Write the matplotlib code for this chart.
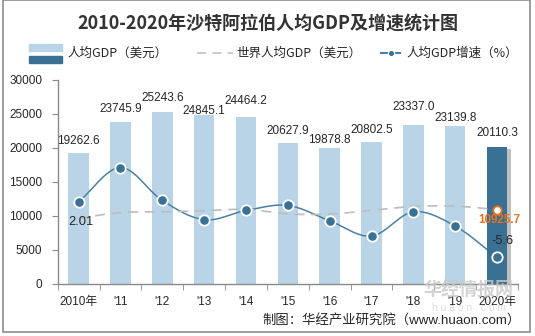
import numpy as np
import matplotlib
matplotlib.use("Agg")
import matplotlib.pyplot as plt
from matplotlib.patches import Rectangle
from matplotlib.lines import Line2D
import matplotlib.patheffects as pe

# ---------------- data ----------------
years = ["2010年", "'11", "'12", "'13", "'14", "'15", "'16", "'17", "'18", "'19", "2020年"]
gdp_pc = [19262.6, 23745.9, 25243.6, 24845.1, 24464.2, 20627.9, 19878.8, 20802.5, 23337.0, 23139.8, 20110.3]
world_gdp_pc = [9650, 10480, 10580, 10750, 10950, 10280, 10260, 10800, 11380, 11420, 10925.7]
growth = [2.01, 6.71, 2.20, -0.44, 0.83, 1.52, -0.58, -2.68, 0.65, -1.31, -5.6]
yticks = [0, 5000, 10000, 15000, 20000, 25000, 30000]

# ---------------- style ----------------
W, H, DPI = 535, 336, 100
LIGHT = "#b8d4e6"
DARK = "#3a7094"
LINE = "#4a80a8"
WORLD = "#bdbdbd"
ORANGE = "#e8731c"
AXC = "#8a8a8a"
TXT = "#262626"
LAT = ["Liberation Sans", "Noto Sans CJK SC", "DejaVu Sans"]
CJK = ["Noto Sans CJK SC", "DejaVu Sans"]
label_dy_px = [12, 13, 14, 4, 16, 12, 8, 12, 18, 8, 14]

plt.rcParams["font.family"] = LAT


def fx(x):
    return x / W


def fy(y):
    return 1 - y / H


def smooth(xv, yv, n=24):
    xv = np.asarray(xv, float)
    yv = np.asarray(yv, float)
    P = np.column_stack([xv, yv])
    P = np.vstack([P[0] - (P[1] - P[0]), P, P[-1] + (P[-1] - P[-2])])
    out = []
    t = np.linspace(0, 1, n)[:, None]
    for i in range(1, len(P) - 2):
        p0, p1, p2, p3 = P[i - 1], P[i], P[i + 1], P[i + 2]
        seg = 0.5 * ((2 * p1) + (-p0 + p2) * t + (2 * p0 - 5 * p1 + 4 * p2 - p3) * t ** 2
                     + (-p0 + 3 * p1 - 3 * p2 + p3) * t ** 3)
        out.append(seg if i == 1 else seg[1:])
    out = np.vstack(out)
    return out[:, 0], out[:, 1]


fig = plt.figure(figsize=(W / DPI, H / DPI), dpi=DPI)
ax = fig.add_axes([fx(57.7), fy(284), fx(518) - fx(57.7), fy(79.5) - fy(284)])
ax2 = ax.twinx()
ax2.set_ylim(-9.24, 18.77)
ax2.set_axis_off()

x = np.arange(len(years))
ax.set_xlim(-0.5, len(years) - 0.5)
ax.set_ylim(0, 30000)

# bars
ax.bar(x[:-1], gdp_pc[:-1], width=0.49, color=LIGHT, zorder=1)
dark = ax.bar(x[-1:], gdp_pc[-1:], width=0.49, color=DARK, zorder=4)
for b in dark:
    b.set_path_effects([pe.SimplePatchShadow(offset=(2.5, -1.5), shadow_rgbFace="#000000", alpha=0.25),
                        pe.Normal()])

# world line (dashed, smooth)
sx, sy = smooth(x, world_gdp_pc)
ax.plot(sx, sy, color=WORLD, lw=1.2, ls=(0, (6, 4)), zorder=4.5)
ax.plot(x[-1], world_gdp_pc[-1], "o", ms=6, mfc="white", mec=ORANGE, mew=1.3, zorder=6)

# growth line on secondary scale
gx, gy = smooth(x, growth)
ax.plot(gx, gy, color=LINE, lw=1.1, zorder=3, transform=ax2.transData)
ax.plot(x[:-1], growth[:-1], "o", ms=7.5, mfc=DARK, mec="white", mew=1.3, zorder=6,
        transform=ax2.transData)
ax.plot(x[-1], growth[-1], "o", ms=7.5, mfc=DARK, mec="white", mew=1.3, zorder=6,
        transform=ax2.transData)

# value labels
for xi, v, dy in zip(x, gdp_pc, label_dy_px):
    ax.annotate(f"{v:.1f}", (xi, v), xytext=(0, dy * 0.72), textcoords="offset points",
                ha="center", va="center", fontsize=8.5, color=TXT, zorder=7)
ax.annotate(f"{growth[0]:.2f}", (x[0], growth[0]), xycoords=ax2.transData,
            xytext=(1.5, -20.5 * 0.72), textcoords="offset points",
            ha="center", va="center", fontsize=9.3, color=TXT, zorder=7)
ax.annotate(f"{growth[-1]:.1f}", (x[-1], growth[-1]), xycoords=ax2.transData,
            xytext=(5 * 0.72, 16 * 0.72), textcoords="offset points",
            ha="center", va="center", fontsize=9.3, color=TXT, zorder=7)
ax.annotate(f"{world_gdp_pc[-1]:.1f}", (x[-1], world_gdp_pc[-1]),
            xytext=(2.5 * 0.72, -10 * 0.72), textcoords="offset points",
            ha="center", va="center", fontsize=8.4, fontweight="bold", color=ORANGE, zorder=7)

# axes styling
for s in ["top", "right"]:
    ax.spines[s].set_visible(False)
for s in ["left", "bottom"]:
    ax.spines[s].set_color(AXC)
    ax.spines[s].set_linewidth(1)
ax.set_yticks(yticks)
ax.set_yticklabels([str(v) for v in yticks])
ax.tick_params(axis="y", length=4, color=AXC, pad=7, labelsize=8.5, labelcolor=TXT)
ax.set_xticks(x)
ax.set_xticklabels(years)
ax.tick_params(axis="x", which="major", length=0, pad=8.5, labelsize=8.5, labelcolor=TXT)
ax.set_xticks(np.arange(-0.5, len(years)), minor=True)
ax.tick_params(axis="x", which="minor", length=4, color=AXC)

# title
fig.text(fx(268), fy(23), "2010-2020年沙特阿拉伯人均GDP及增速统计图", family=CJK,
         fontsize=13, fontweight="bold", color="#333333", ha="center", va="center")

# legend (manual)
fig.patches.append(Rectangle((fx(29), fy(50.5)), fx(62) - fx(29), fy(44.5) - fy(50.5),
                             transform=fig.transFigure, color=LIGHT))
fig.patches.append(Rectangle((fx(29), fy(62.5)), fx(62) - fx(29), fy(56.5) - fy(62.5),
                             transform=fig.transFigure, color=DARK))
fig.text(fx(67), fy(53), "人均GDP（美元）", family=CJK, fontsize=9, color=TXT, va="center")
fig.lines.append(Line2D([fx(196.5), fx(233)], [fy(52.5), fy(52.5)], transform=fig.transFigure,
                        color=WORLD, lw=1.1, ls=(0, (6, 4))))
fig.text(fx(236), fy(53), "世界人均GDP（美元）", family=CJK, fontsize=9, color=TXT, va="center")
fig.lines.append(Line2D([fx(381), fx(400)], [fy(52.5), fy(52.5)], transform=fig.transFigure,
                        color=LINE, lw=1.5))
fig.lines.append(Line2D([fx(390.5)], [fy(52.5)], transform=fig.transFigure, marker="o", ms=4.5,
                        mfc=DARK, mec="white", mew=0.8, ls="none"))
fig.text(fx(406), fy(53), "人均GDP增速（%）", family=CJK, fontsize=9, color=TXT, va="center")

# watermark
fig.text(fx(468), fy(290), "华经情报网", family=CJK, fontsize=13, fontweight="bold",
         color="#c8c8c8", alpha=0.8, ha="center", va="center", zorder=8)
fig.text(fx(469), fy(308), "h u a o n . c o m", family=LAT, fontsize=7.5,
         color="#d2d2d2", alpha=0.8, ha="center", va="center", zorder=8)

# source
fig.text(fx(521), fy(321), "制图：华经产业研究院（www.huaon.com）", family=LAT, fontsize=9.6,
         color=TXT, ha="right", va="center")

# frame
fig.patches.append(Rectangle((fx(2.5), fy(332)), fx(530) - fx(2.5), fy(0) - fy(332),
                             transform=fig.transFigure, fill=False, ec="#8c8c8c", lw=1.2))

fig.savefig("out.png", dpi=DPI)
